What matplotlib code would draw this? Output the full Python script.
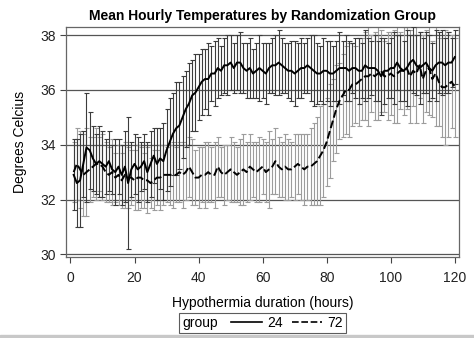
import numpy as np
import matplotlib.pyplot as plt
from matplotlib.lines import Line2D
from matplotlib.patches import Rectangle
from matplotlib.offsetbox import HPacker

plt.rcParams['font.family'] = ['Liberation Sans', 'DejaVu Sans']

hours = np.arange(1, 121)

# group 24: hourly mean and error half-width
mean_24 = [
    32.9, 32.6, 32.7, 33.3, 33.9, 33.8, 33.5, 33.3, 33.4, 33.3,
    33.2, 33.4, 33.1, 33.0, 33.2, 32.9, 33.2, 32.6, 33.1, 33.3,
    33.1, 33.2, 33.4, 33.0, 33.3, 33.6, 33.3, 33.5, 33.4, 33.8,
    34.1, 34.4, 34.6, 34.7, 35.0, 35.3, 35.5, 35.8, 35.9, 36.1,
    36.3, 36.4, 36.4, 36.6, 36.6, 36.8, 36.7, 36.9, 36.9, 37.0,
    36.8, 37.0, 37.0, 36.8, 36.7, 36.8, 36.6, 36.7, 36.8, 36.7,
    36.6, 36.8, 36.9, 36.9, 37.0, 36.9, 36.8, 36.7, 36.7, 36.6,
    36.7, 36.8, 36.8, 36.9, 36.8, 36.7, 36.6, 36.6, 36.7, 36.7,
    36.6, 36.6, 36.7, 36.8, 36.8, 36.8, 36.7, 36.8, 36.8, 36.7,
    36.7, 36.9, 36.8, 36.8, 36.8, 36.7, 36.5, 36.7, 36.7, 36.8,
    36.8, 37.0, 36.8, 36.7, 36.8, 37.0, 37.1, 36.9, 36.8, 36.9,
    37.0, 36.8, 36.7, 36.9, 37.0, 37.0, 36.9, 37.0, 37.0, 37.2,
]
err_24 = [
    1.3, 1.6, 1.7, 1.2, 2.0, 1.4, 1.2, 1.1, 1.3, 1.2,
    1.0, 1.1, 0.9, 1.2, 1.0, 1.1, 1.3, 2.4, 1.0, 1.1,
    1.2, 0.9, 1.0, 1.1, 1.2, 1.0, 1.3, 1.1, 1.4, 1.5,
    1.6, 1.5, 1.7, 1.6, 1.5, 1.4, 1.5, 1.3, 1.4, 1.2,
    1.2, 1.1, 1.3, 1.0, 1.2, 1.1, 0.9, 1.0, 1.1, 1.0,
    0.9, 1.0, 1.1, 0.9, 1.0, 1.1, 0.9, 1.0, 1.2, 1.0,
    1.1, 0.9, 1.0, 1.1, 1.2, 1.0, 0.9, 1.0, 1.1, 1.2,
    1.0, 1.1, 0.9, 1.0, 1.2, 1.3, 1.1, 1.0, 1.2, 1.1,
    1.2, 1.0, 1.1, 1.3, 1.0, 1.2, 1.1, 0.9, 1.1, 1.2,
    1.0, 1.3, 1.1, 1.0, 1.2, 1.1, 1.4, 1.2, 1.0, 1.1,
    1.3, 1.0, 1.2, 1.1, 1.4, 1.0, 1.2, 1.1, 1.3, 1.0,
    1.1, 1.2, 1.0, 1.3, 1.1, 1.2, 1.0, 1.1, 0.9, 1.0,
]

# group 72
mean_72 = [
    33.0, 33.3, 33.1, 32.9, 33.0, 33.1, 33.2, 33.3, 33.3, 33.2,
    33.0, 32.9, 33.0, 32.8, 32.9, 32.7, 32.9, 32.8, 32.8, 32.7,
    32.8, 32.8, 32.7, 32.7, 32.6, 32.7, 32.8, 32.8, 32.9, 32.9,
    32.9, 32.9, 32.9, 33.0, 32.9, 33.0, 33.2, 33.0, 32.8, 32.8,
    32.9, 32.9, 33.0, 32.9, 32.9, 33.2, 33.0, 32.9, 33.0, 33.1,
    33.0, 32.9, 33.0, 33.1, 33.0, 33.2, 33.1, 33.0, 33.1, 33.2,
    33.0, 33.1, 33.2, 33.4, 33.2, 33.1, 33.2, 33.1, 33.1, 33.2,
    33.3, 33.2, 33.1, 33.2, 33.2, 33.3, 33.4, 33.6, 33.8, 34.1,
    34.5, 34.9, 35.3, 35.6, 35.8, 36.0, 36.0, 36.2, 36.2, 36.3,
    36.4, 36.5, 36.5, 36.6, 36.5, 36.6, 36.7, 36.5, 36.5, 36.6,
    36.5, 36.6, 36.7, 36.7, 36.8, 36.5, 36.7, 36.6, 36.9, 36.4,
    36.7, 36.8, 36.4, 36.6, 36.3, 36.1, 36.1, 36.2, 36.3, 36.1,
]
err_72 = [
    1.1, 1.3, 1.4, 1.5, 1.6, 1.2, 1.1, 1.3, 1.0, 1.2,
    1.1, 1.0, 1.2, 0.9, 1.1, 1.0, 1.2, 1.1, 1.0, 1.1,
    1.2, 1.1, 1.0, 1.2, 0.9, 1.1, 1.0, 1.2, 1.1, 1.0,
    1.1, 1.2, 1.0, 1.1, 1.2, 1.0, 1.1, 1.2, 1.0, 1.1,
    1.0, 1.2, 1.1, 1.0, 1.2, 1.1, 0.9, 1.1, 1.0, 1.2,
    1.1, 1.0, 1.2, 1.3, 1.1, 1.2, 1.0, 1.1, 1.2, 1.0,
    1.1, 1.4, 1.0, 1.2, 1.1, 1.0, 1.2, 1.1, 1.0, 1.2,
    1.1, 1.2, 1.3, 1.2, 1.4, 1.5, 1.6, 1.8, 1.7, 1.6,
    1.7, 1.5, 1.6, 1.4, 1.5, 1.6, 1.7, 1.5, 1.4, 1.6,
    1.5, 1.6, 1.8, 1.4, 1.6, 1.7, 1.5, 1.3, 1.6, 1.5,
    1.7, 1.8, 1.4, 1.6, 1.5, 1.7, 1.3, 1.8, 1.2, 1.6,
    1.5, 1.7, 1.4, 1.9, 1.6, 1.8, 2.1, 1.9, 1.7, 1.8,
]

y_ticks = [30, 32, 34, 36, 38]
x_ticks = [0, 20, 40, 60, 80, 100, 120]

fig = plt.figure(figsize=(4.74, 3.38), dpi=100)
ax = fig.add_axes([0.1392, 0.2396, 0.829, 0.6806])

for yv in y_ticks:
    ax.axhline(yv, color='#555555', lw=0.9, zorder=1)

ax.errorbar(hours, mean_72, yerr=err_72, fmt='none', ecolor='#9c9c9c',
            elinewidth=0.8, capsize=1.8, capthick=0.8, zorder=2)
ax.errorbar(hours, mean_24, yerr=err_24, fmt='none', ecolor='#3c3c3c',
            elinewidth=0.8, capsize=1.8, capthick=0.8, zorder=3)

ax.plot(hours, mean_24, color='black', lw=1.4, zorder=5)
ax.plot(hours, mean_72, color='black', lw=1.4, dashes=(4, 1.6), zorder=5)

ax.set_xlim(-1.4, 121.3)
ax.set_ylim(29.9, 38.3)
ax.set_xticks(x_ticks)
ax.set_yticks(y_ticks)
ax.tick_params(axis='both', direction='out', length=4, width=0.8,
               color='#444444', labelsize=10, labelcolor='#222222', pad=3)
ax.tick_params(axis='x', pad=6)
for s in ax.spines.values():
    s.set_color('#666666')
    s.set_linewidth(0.9)

ax.set_title('Mean Hourly Temperatures by Randomization Group',
             fontsize=10, fontweight='bold', pad=5)
ax.set_xlabel('Hypothermia duration (hours)', fontsize=10, labelpad=8)
ax.set_ylabel('Degrees Celcius', fontsize=10, labelpad=10)

h24 = Line2D([], [], color='black', lw=1.2)
h72 = Line2D([], [], color='black', lw=1.2, dashes=(4, 1.6))
leg = fig.legend([h24, h72], ['24', '72'], title='group', ncol=2,
                 loc='center', bbox_to_anchor=(0.554, 0.045),
                 fontsize=10, title_fontsize=10, frameon=True,
                 fancybox=False, edgecolor='#333333', handlelength=2.2,
                 handletextpad=0.4, columnspacing=0.6, borderpad=0.2)
leg.get_frame().set_linewidth(0.8)
# put the "group" title to the left of the entries, as in the original
old = leg._legend_box
leg._legend_box = HPacker(pad=old.pad, sep=10, align='center',
                          children=old.get_children())
leg._legend_box.set_figure(fig)
leg._legend_box.set_offset(leg._findoffset)

fig.patches.append(Rectangle((0, 0), 1, 0.009, transform=fig.transFigure,
                             color='#c8c8c8', zorder=0))

fig.savefig('out.png', dpi=100)
